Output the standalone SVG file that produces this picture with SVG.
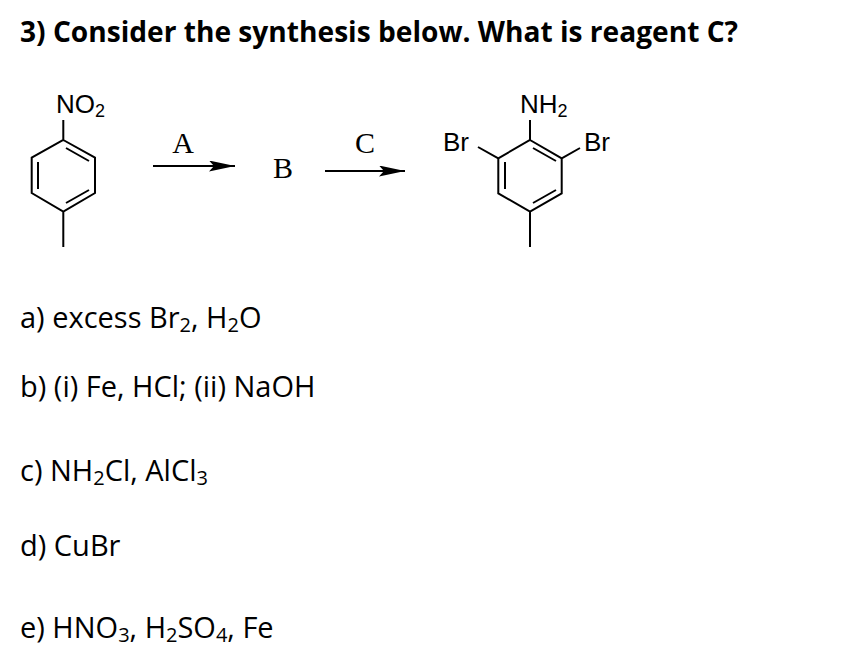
<svg xmlns="http://www.w3.org/2000/svg" width="864" height="668" viewBox="0 0 864 668">
<style>
.b{stroke:#000;stroke-width:2;fill:none;stroke-linecap:butt}
.h{font-family:"Liberation Sans",Arial,sans-serif;font-size:26px}
.t{font-family:"Liberation Serif",serif;font-size:30px}
.o{font-family:"Open Sans","Liberation Sans",sans-serif;font-size:29px}
</style>
<defs><marker id="ah" markerWidth="26" markerHeight="11" refX="26" refY="5.5" orient="auto" markerUnits="userSpaceOnUse"><path d="M0,0 L26,5.5 L0,11 L5,5.5 Z" fill="#000"/></marker></defs>
<rect width="864" height="668" fill="#fff"/>
<text x="20" y="42" font-family="Open Sans,Liberation Sans,sans-serif" font-weight="bold" font-size="28" textLength="718" lengthAdjust="spacingAndGlyphs">3) Consider the synthesis below. What is reagent C?</text>
<g id="nitrotoluene">
<path class="b" d="M63.3,140 L95,157.7 L95,193 L63.3,211.7 L31.7,193 L31.7,157.7 Z M63.3,140 V120 M63.3,211.7 V247 M66,148 L89,161 M38,162 V189 M89,190 L66,203"/>
<text class="h" x="56" y="113">NO<tspan font-size="18" dy="4">2</tspan></text>
</g>
<g id="B"><text class="t" x="283" y="178" text-anchor="middle">B</text></g>
<g id="product">
<path class="b" d="M530,140 L561.7,158.3 L561.7,193.3 L530,211.7 L498.3,193.3 L498.3,158.3 Z M530,140 V120 M530,211.7 V247 M498.3,158.3 L478,147 M561.7,158.3 L580,148 M533,148 L556,161 M505,162 V189 M556,190 L533,203"/>
<text class="h" x="520" y="113">NH<tspan font-size="18" dy="4">2</tspan></text>
<text class="h" x="469" y="151" text-anchor="end">Br</text>
<text class="h" x="584" y="151">Br</text>
</g>
<g id="connectors">
<line class="b" x1="153" y1="166" x2="235" y2="166" stroke-width="2.5" marker-end="url(#ah)"/>
<text class="t" x="183" y="153" text-anchor="middle">A</text>
<line class="b" x1="325" y1="171" x2="405" y2="171" stroke-width="2.5" marker-end="url(#ah)"/>
<text class="t" x="365" y="153" text-anchor="middle">C</text>
</g>
<g class="o">
<text x="20" y="328">a) excess Br<tspan font-size="20" dy="4">2</tspan><tspan dy="-4">, H</tspan><tspan font-size="20" dy="4">2</tspan><tspan dy="-4">O</tspan></text>
<text x="20" y="397">b) (i) Fe, HCl; (ii) NaOH</text>
<text x="20" y="481">c) NH<tspan font-size="20" dy="4">2</tspan><tspan dy="-4">Cl, AlCl</tspan><tspan font-size="20" dy="4">3</tspan></text>
<text x="20" y="556">d) CuBr</text>
<text x="20" y="638">e) HNO<tspan font-size="20" dy="4">3</tspan><tspan dy="-4">, H</tspan><tspan font-size="20" dy="4">2</tspan><tspan dy="-4">SO</tspan><tspan font-size="20" dy="4">4</tspan><tspan dy="-4">, Fe</tspan></text>
</g>
</svg>
